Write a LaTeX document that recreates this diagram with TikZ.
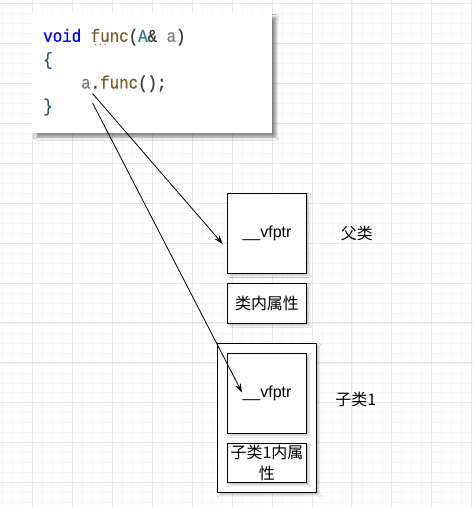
\documentclass[tikz,border=0pt]{standalone}
\usepackage{fontspec}
\setmainfont{Liberation Sans}
\newfontfamily\codefont[FakeStretch=0.88,FakeBold=0.6]{Liberation Mono}
\newfontfamily\cjkfont{Noto Sans CJK SC}
\usetikzlibrary{arrows.meta,shadows.blur,positioning}

\definecolor{kwblue}{HTML}{0000FF}
\definecolor{fnbrown}{HTML}{795E26}
\definecolor{typeteal}{HTML}{267F99}
\definecolor{argray}{HTML}{808080}
\definecolor{bracecol}{HTML}{2B5C73}
\definecolor{punct}{HTML}{3B3B3B}
\definecolor{gridmajor}{HTML}{E6E6E6}
\definecolor{gridminor}{HTML}{F6F6F6}

\begin{document}
\begin{tikzpicture}[
       x=1pt, y=-1pt,
       slot/.style={
         draw=black,
         line width=1pt,
         fill=white,
         inner sep=0pt,
         minimum width=80pt,
         minimum height=80pt,
         font=\fontsize{16}{19}\selectfont,
         blur shadow={shadow xshift=2pt, shadow yshift=-2pt,
                      shadow blur radius=2pt, shadow opacity=25}
       },
       attr/.style={
         slot,
         minimum height=40pt,
         align=center,
         font=\cjkfont\fontsize{16}{21}\selectfont
       },
       tag/.style={
         inner sep=0pt,
         font=\cjkfont\fontsize{16}{19}\selectfont
       },
       codeline/.style={
         anchor=base west,
         inner sep=0pt,
         font=\codefont\fontsize{18}{21}\selectfont
       },
       ptr/.style={
         -{Stealth[length=9pt,width=6pt]},
         line width=0.8pt
       }
     ]

       % grid background
       \fill[white] (0,0) rectangle (473,507);
       \foreach \x in {2,12,...,472}
         \draw[gridminor, line width=0.6pt] (\x,0) -- (\x,507);
       \foreach \y in {3,13,...,503}
         \draw[gridminor, line width=0.6pt] (0,\y) -- (473,\y);
       \foreach \x in {32,72,...,472}
         \draw[gridmajor, line width=0.8pt] (\x,0) -- (\x,507);
       \foreach \y in {3,43,...,483}
         \draw[gridmajor, line width=0.8pt] (0,\y) -- (473,\y);

       % code snippet
       \node (code) at (152,73) [fill=white, inner sep=0pt,
         minimum width=240pt, minimum height=120pt,
         blur shadow={shadow xshift=4pt, shadow yshift=-4pt,
                      shadow blur radius=3pt, shadow opacity=45}] {};

       \node (l1) at (42.7,41.5) [codeline] {\textcolor{kwblue}{void} \textcolor{fnbrown}{func}\textcolor{punct}{(}\textcolor{typeteal}{A}\textcolor{punct}{\&} \textcolor{argray}{a}\textcolor{punct}{)}};
       \node (l2) at (42.7,64.8) [codeline] {\textcolor{bracecol}{\{}};
       \node (l3) at (80.7,88.2) [codeline] {\textcolor{argray}{a}\textcolor{punct}{.}\textcolor{fnbrown}{func}\textcolor{punct}{();}};
       \node (l4) at (42.7,111.5) [codeline] {\textcolor{bracecol}{\}}};

       \foreach \x in {95,100,105}
         \fill[argray] (\x,44) circle (0.8);

       % parent object
       \node (vfa) at (267,233.3) [slot] {\_\_vfptr};
       \node (atta) at (267,303.3) [attr] {类内属性};
       \node (taga) at (357,233) [tag] {父类};

       % child object
       \node (outer) at (267,418.3) [slot, minimum width=100pt, minimum height=150pt] {};
       \node (vfb) at (267,393.3) [slot] {\_\_vfptr};
       \node (attb) at (267,463.3) [attr] {子类1内属\\性};
       \node (tagb) at (356,400) [tag] {子类1};

       % pointers from a
       \coordinate (a1) at (92.3,93.3);
       \coordinate (a2) at (92.3,102.7);
       \coordinate (p1) at (222.7,244);
       \coordinate (p2) at (242,392.7);

       \draw[ptr] (a1) -- (p1);
       \draw[ptr] (a2) -- (p2);

       \useasboundingbox (0,0) rectangle (473,507);
\end{tikzpicture}
\end{document}
